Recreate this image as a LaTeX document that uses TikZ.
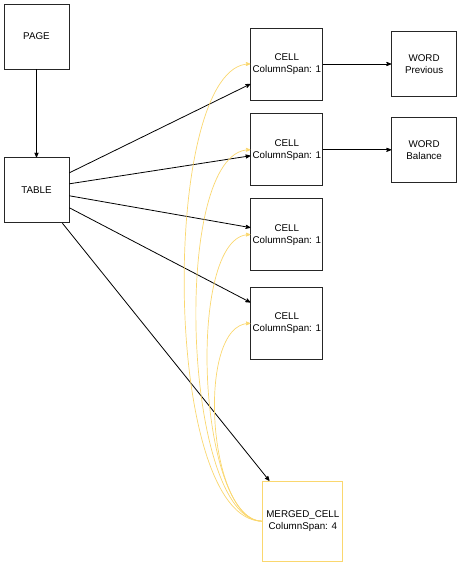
\documentclass[tikz,border=0pt]{standalone}
\usepackage{fontspec}
\setmainfont{Liberation Sans}
\usepackage{tikz}
\usetikzlibrary{arrows,positioning}
\definecolor{linkyellow}{RGB}{250,215,110}
\tikzset{>=stealth'}
\tikzset{box node/.style={rectangle,draw=black!85,line width=0.8pt,align=center,inner sep=0pt,
            font=\fontsize{9.8}{12}\selectfont},
         obj node/.style={box node,minimum size=65pt},
         cell node/.style={box node,minimum size=72pt},
         merged node/.style={box node,draw=linkyellow,minimum size=80pt},
         link/.style={->,line width=0.7pt,draw=linkyellow},
            }
\begin{document}
\begin{tikzpicture}[x=1pt,y=1pt]

    \useasboundingbox (0,0) rectangle (474,-564);

    \node[obj node] (page) at (36.5,-36.5) {PAGE};
    \node[obj node] (table) [below = 88pt of page] {TABLE};
    \node[cell node] (cell1) [above right = 57pt and 181pt of table] {CELL\\ColumnSpan: 1};
    \node[cell node] (cell2) [below = 13pt of cell1] {CELL\\ColumnSpan: 1};
    \node[cell node] (cell3) [below = 12pt of cell2] {CELL\\ColumnSpan: 1};
    \node[cell node] (cell4) [below = 16pt of cell3] {CELL\\ColumnSpan: 1};
    \node[merged node] (merged) [below = 121pt of cell4, xshift=16pt] {MERGED\_CELL\\ColumnSpan: 4};
    \node[obj node] (word1) [right = 68pt of cell1] {WORD\\Previous};
    \node[obj node] (word2) [right = 68pt of cell2] {WORD\\Balance};

    \path[line width=0.8pt,every edge/.append style={->}]
    (page) edge (table)
    ([yshift=17.5pt]table.east) edge ([yshift=-20pt]cell1.west)
    ([yshift=6.5pt]table.east) edge ([yshift=-6pt]cell2.west)
    ([yshift=-5.5pt]table.east) edge ([yshift=7pt]cell3.west)
    ([yshift=-17.5pt]table.east) edge ([yshift=21pt]cell4.west)
    ([xshift=-7pt]table.south east) edge ([xshift=7pt]merged.north west)
    (cell1) edge (word1)
    (cell2) edge (word2);

    % span links from the merged cell
    \draw[link] (merged.west) .. controls +(-102,0) and ([xshift=-90pt]cell1.west) .. (cell1.west);
    \draw[link] (merged.west) .. controls +(-80,0) and ([xshift=-80pt]cell2.west) .. (cell2.west);
    \draw[link] (merged.west) .. controls +(-65,0) and ([xshift=-65pt]cell3.west) .. (cell3.west);
    \draw[link] (merged.west) .. controls +(-55,0) and ([xshift=-55pt]cell4.west) .. (cell4.west);

\end{tikzpicture}
\end{document}
